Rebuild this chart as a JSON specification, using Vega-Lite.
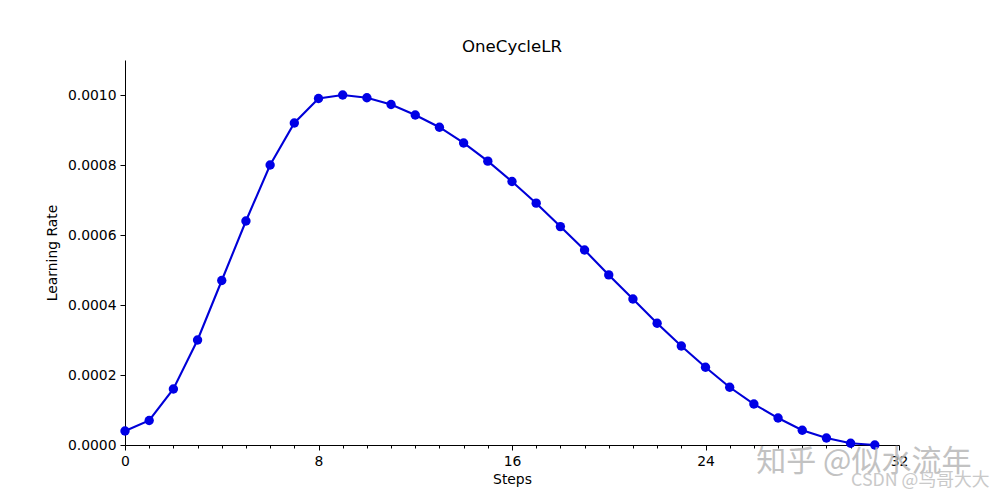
{
  "$schema": "https://vega.github.io/schema/vega-lite/v6.json",
  "description": "OneCycleLR learning rate schedule over 31 steps.",
  "autosize": "none",
  "padding": {"left": 125, "top": 60, "right": 101, "bottom": 55},
  "width": 774,
  "height": 385,
  "background": "white",
  "title": {"text": "OneCycleLR", "anchor": "middle", "fontSize": 16.6, "fontWeight": "normal", "font": "DejaVu Sans", "color": "black", "offset": 4},
  "datasets": {
    "lr": [
      {"step": 0, "rate": 0.00004}, {"step": 1, "rate": 0.00007}, {"step": 2, "rate": 0.00016},
      {"step": 3, "rate": 0.0003}, {"step": 4, "rate": 0.00047}, {"step": 5, "rate": 0.00064},
      {"step": 6, "rate": 0.0008}, {"step": 7, "rate": 0.00092}, {"step": 8, "rate": 0.00099},
      {"step": 9, "rate": 0.001}, {"step": 10, "rate": 0.000992}, {"step": 11, "rate": 0.000973},
      {"step": 12, "rate": 0.000943}, {"step": 13, "rate": 0.000908}, {"step": 14, "rate": 0.000863},
      {"step": 15, "rate": 0.000811}, {"step": 16, "rate": 0.000753}, {"step": 17, "rate": 0.000691},
      {"step": 18, "rate": 0.000624}, {"step": 19, "rate": 0.000557}, {"step": 20, "rate": 0.000486},
      {"step": 21, "rate": 0.000417}, {"step": 22, "rate": 0.000348}, {"step": 23, "rate": 0.000283},
      {"step": 24, "rate": 0.000222}, {"step": 25, "rate": 0.000165}, {"step": 26, "rate": 0.000117},
      {"step": 27, "rate": 0.000077}, {"step": 28, "rate": 0.000042}, {"step": 29, "rate": 0.00002},
      {"step": 30, "rate": 0.000005}, {"step": 31, "rate": 0}
    ],
    "marks": [
      {"step": 26.1, "rate": -0.000048, "label": "知乎 @似水流年"}
    ],
    "marks2": [
      {"step": 32.88, "rate": -0.000104, "label": "CSDN @鸟哥大大"}
    ]
  },
  "encoding": {
    "x": {
      "field": "step",
      "type": "quantitative",
      "scale": {"domain": [0, 32], "nice": false, "zero": false},
      "axis": {
        "title": "Steps",
        "titleFontWeight": "normal",
        "titleFontSize": 13.9,
        "titleColor": "black",
        "titlePadding": 5,
        "values": [0,1,2,3,4,5,6,7,8,9,10,11,12,13,14,15,16,17,18,19,20,21,22,23,24,25,26,27,28,29,30,31,32],
        "labelExpr": "datum.value % 8 === 0 ? datum.value : ''",
        "labelOverlap": false,
        "labelFlush": false,
        "tickSize": {"expr": "datum.value % 8 === 0 ? 5 : 3"},
        "labelPadding": 4
      }
    },
    "y": {
      "field": "rate",
      "type": "quantitative",
      "scale": {"domain": [0, 0.0011], "nice": false},
      "axis": {
        "title": "Learning Rate",
        "titleFontWeight": "normal",
        "titleFontSize": 13.9,
        "titleColor": "black",
        "titlePadding": 8,
        "values": [0, 0.0002, 0.0004, 0.0006, 0.0008, 0.001],
        "format": ".4f",
        "tickSize": 5,
        "labelPadding": 4
      }
    }
  },
  "layer": [
    {
      "data": {"name": "lr"},
      "mark": {"type": "line", "color": "#0000d8", "strokeWidth": 2.1, "clip": false}
    },
    {
      "data": {"name": "lr"},
      "mark": {"type": "point", "filled": true, "opacity": 1, "color": "#0000e6", "size": 88, "clip": false}
    },
    {
      "data": {"name": "marks"},
      "mark": {"type": "text", "align": "left", "baseline": "middle", "font": "Noto Sans CJK SC", "fontSize": 30, "color": "#b8b8b8", "opacity": 0.85},
      "encoding": {"text": {"field": "label"}}
    },
    {
      "data": {"name": "marks2"},
      "mark": {"type": "text", "align": "center", "baseline": "middle", "font": "Noto Sans CJK SC", "fontSize": 17.8, "color": "#c4c4c4", "opacity": 0.9},
      "encoding": {"text": {"field": "label"}}
    }
  ],
  "config": {
    "view": {"stroke": null},
    "axis": {
      "grid": false,
      "domainColor": "black",
      "domainWidth": 1,
      "tickColor": "black",
      "tickWidth": 1,
      "labelColor": "black",
      "labelFont": "DejaVu Sans",
      "titleFont": "DejaVu Sans",
      "labelFontSize": 13.9
    }
  }
}
